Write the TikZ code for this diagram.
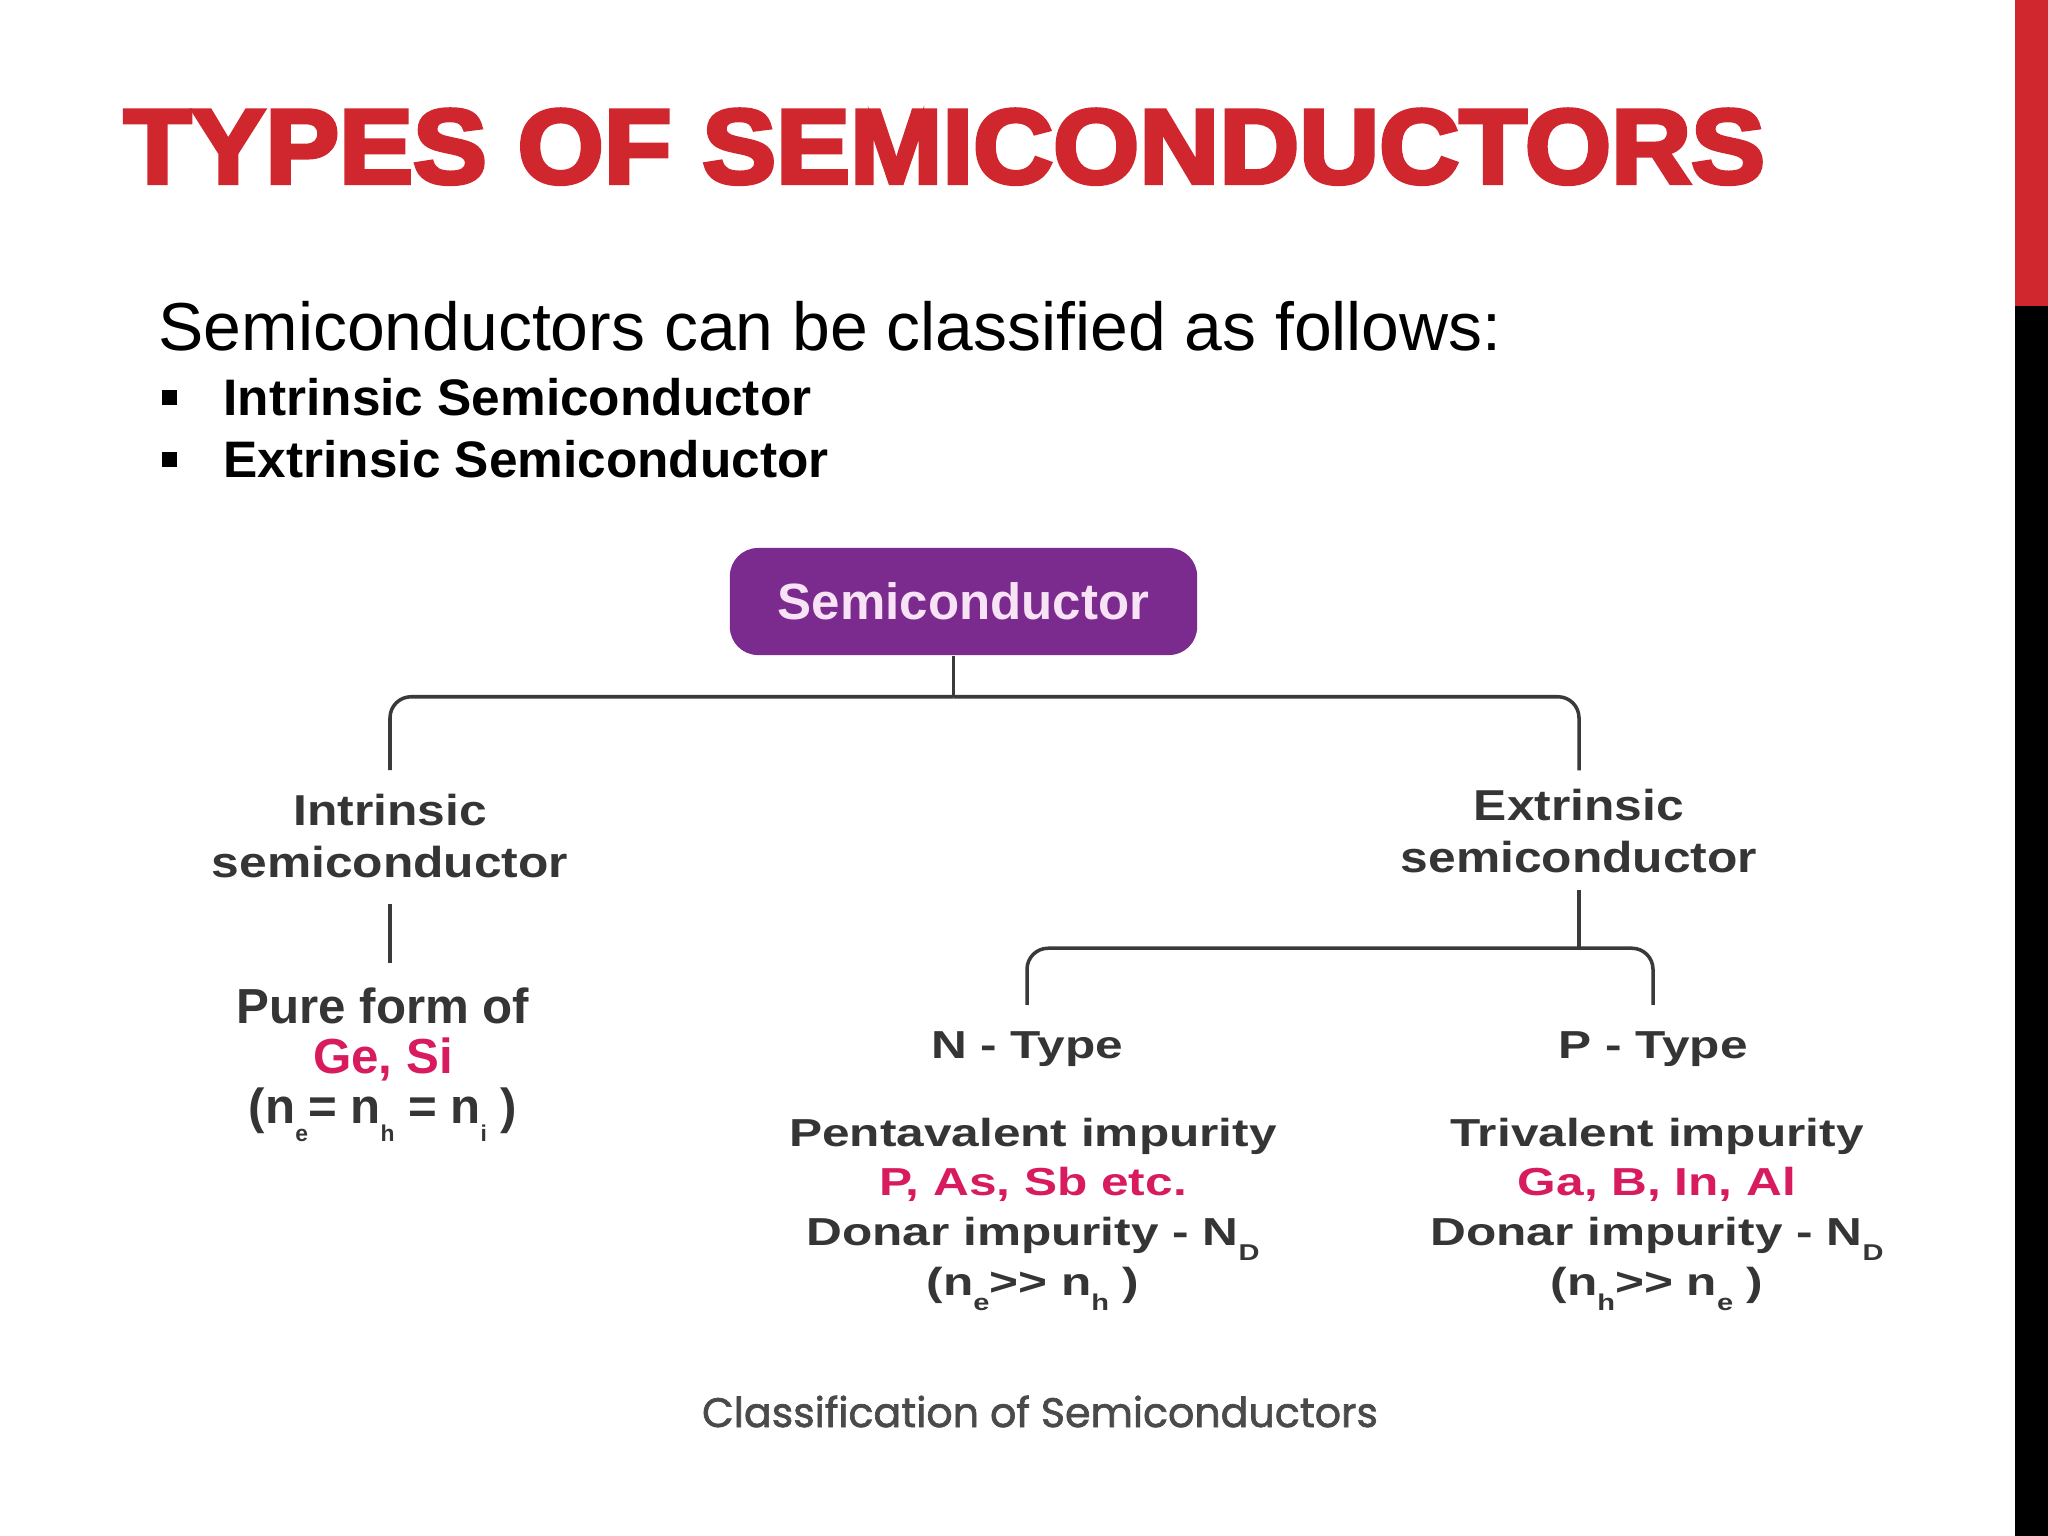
\documentclass[tikz,border=0pt]{standalone}
\usepackage{fontspec}
\setmainfont{Liberation Sans}
\newfontfamily\titlefont[FakeBold=4, FakeStretch=1.05]{Liberation Sans Bold}
\newfontfamily\headfont[FakeStretch=1.15]{Liberation Sans Bold}
\newfontfamily\typefont[FakeStretch=1.27]{Liberation Sans Bold}
\newfontfamily\capfont[FakeBold=1.6]{Poppins}
\usetikzlibrary{positioning, calc}

\definecolor{titlered}{HTML}{D0262D}
\definecolor{boxpurple}{HTML}{7B2A8E}
\definecolor{boxtext}{HTML}{F8E2F6}
\definecolor{txtgray}{HTML}{353535}
\definecolor{elempink}{HTML}{D81B5E}
\definecolor{capgray}{HTML}{4A4A4A}
\definecolor{lnline}{HTML}{3A3A3A}

\newcommand{\lowsub}[1]{\raisebox{-0.7ex}{\fontsize{6.5}{6.5}\selectfont #1}}

\begin{document}
\begin{tikzpicture}[
    x = 0.01cm, y = -0.01cm,
    topbox/.style = {
      rectangle, fill = boxpurple, rounded corners = 8pt,
      minimum width = 4.67cm, minimum height = 1.07cm,
      font = \bfseries\fontsize{14.5}{16}\selectfont, text = boxtext
    },
    headlbl/.style = {
      inner sep = 0pt, align = center, anchor = north, text = txtgray,
      font = \headfont\fontsize{12.3}{14.8}\selectfont
    },
    purelbl/.style = {
      inner sep = 0pt, align = center, anchor = north, text = txtgray,
      font = \bfseries\fontsize{14}{14.2}\selectfont
    },
    typelbl/.style = {
      inner sep = 0pt, align = center, anchor = north, text = txtgray,
      font = \typefont\fontsize{11.1}{14.2}\selectfont
    },
    sqbullet/.style = {
      rectangle, fill = black, minimum size = 0.15cm, inner sep = 0pt
    },
    conn/.style = {line width = 1pt, draw = lnline, rounded corners = 6pt}
  ]

  % ---- Fondo y barra lateral ----
  \fill[white] (0,0) rectangle (2048,1536);
  \fill[titlered] (2015,0) rectangle (2048,306);
  \fill[black] (2015,306) rectangle (2048,1536);

  % ---- Titulo y texto ----
  \node[anchor = base west, inner sep = 0pt, text = titlered,
        font = \titlefont\fontsize{30}{30}\selectfont] (title) at (123,183) {TYPES OF SEMICONDUCTORS};
  \node[anchor = base west, inner sep = 0pt,
        font = \fontsize{19.3}{20}\selectfont] (intro) at (158,350) {Semiconductors can be classified as follows:};
  \node[sqbullet] (dot1) at (169.5,397.5) {};
  \node[sqbullet] (dot2) at (169.5,459.5) {};
  \node[anchor = base west, inner sep = 0pt,
        font = \bfseries\fontsize{14.6}{16}\selectfont] (item1) at (223,415) {Intrinsic Semiconductor};
  \node[anchor = base west, inner sep = 0pt,
        font = \bfseries\fontsize{14.6}{16}\selectfont] (item2) at (223,477) {Extrinsic Semiconductor};

  % ---- Nivel 1: Semiconductor ----
  \node[topbox] (semi) at (963.5,601.5) {Semiconductor};

  % ---- Nivel 2: intrinseco / extrinseco ----
  \node[headlbl] (intr) at (390,793) {Intrinsic\\semiconductor};
  \node[headlbl] (extr) at (1579,788) {Extrinsic\\semiconductor};

  \coordinate (bar1) at ($(semi.south)+(-10,41)$);
  \draw[conn] (semi.south -| bar1) -- (bar1);
  \draw[conn, shorten >= 6.5pt] (bar1) -| (intr.north);
  \draw[conn, shorten >= 5pt] (bar1) -| (extr.north);

  % ---- Nivel 3: rama intrinseca ----
  \node[purelbl] (pure) at (383,987) {Pure form of\\\textcolor{elempink}{Ge, Si}\\(n\lowsub{e}= n\lowsub{h} = n\lowsub{i} )};
  \draw[conn, shorten <= 7.4pt, shorten >= 6.8pt] (intr.south) -- (intr.south |- pure.north);

  % ---- Nivel 3: tipos N y P ----
  \node[typelbl] (ntype) at (1027,1031) {N - Type};
  \node[typelbl] (ptype) at (1653,1031) {P - Type};

  \coordinate (bar2) at ($(extr.south)+(0,75)$);
  \draw[conn, shorten <= 4.8pt] (extr.south) -- (bar2);
  \draw[conn, shorten >= 7.4pt] (bar2) -| (ntype.north);
  \draw[conn, shorten >= 7.4pt] (bar2) -| (ptype.north);

  \node[typelbl] (ninfo) at (1033,1117) {Pentavalent impurity\\\textcolor{elempink}{P, As, Sb etc.}\\Donar impurity - N\lowsub{D}\\(n\lowsub{e}>{}> n\lowsub{h} )};
  \node[typelbl] (pinfo) at (1657,1117) {Trivalent impurity\\\textcolor{elempink}{Ga, B, In, Al}\\Donar impurity - N\lowsub{D}\\(n\lowsub{h}>{}> n\lowsub{e} )};

  % ---- Pie ----
  \node[anchor = base, inner sep = 0pt, text = capgray,
        font = \capfont\fontsize{11.7}{13}\selectfont] (caption) at (1040,1427) {Classification of Semiconductors};

\end{tikzpicture}
\end{document}
